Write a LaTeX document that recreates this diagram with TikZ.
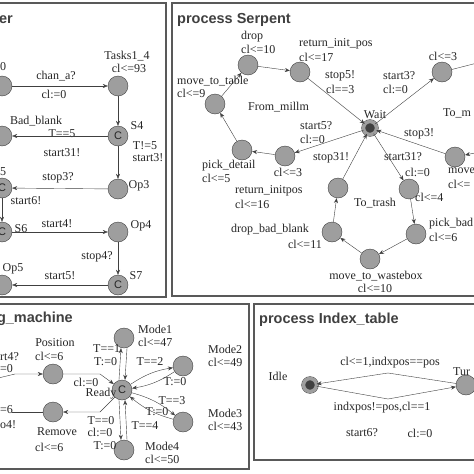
\documentclass[tikz,border=0pt]{standalone}
\usepackage{fontspec}
\setmainfont{Liberation Serif}
\setsansfont{Liberation Sans}
\usetikzlibrary{positioning,arrows.meta}

\begin{document}
\begin{tikzpicture}[
		x=1pt, y=-1pt,
		panel/.style  = { draw=black!65, line width=1.5pt, fill=white },
		title/.style  = { font=\sffamily\bfseries\fontsize{14.5}{16}\selectfont,
			text=black!75, anchor=base west, inner sep=0pt },
		loc/.style    = { circle, draw=black!75, fill=black!38, thin,
			minimum size=20pt, inner sep=0pt },
		comm/.style   = { loc, font=\sffamily\fontsize{11}{12}\selectfont, text=black!85 },
		init/.style   = { circle, draw=black!75, fill=black!75, thin,
			double=black!38, double distance=3.5pt, minimum size=13pt, inner sep=0pt },
		lbl/.style    = { font=\fontsize{12}{13}\selectfont, text=black!85, inner sep=0pt },
		line/.style   = { draw=black!75, thin, -{Stealth[length=5pt,width=4pt]} },
		]
		\clip (0,0) rectangle (474,474);
		\fill[white] (0,0) rectangle (474,474);
		% the four process panels
		\draw[panel] (-5,3) rectangle (166,297);
		\draw[panel] (172,3) rectangle (480,296);
		\draw[panel] (-5,304) rectangle (249,469);
		\draw[panel] (254,304) rectangle (480,460);
		\node[title, anchor=base east] (tA) at (13,23) {er};
		\node[title] (tB) at (177,23) {process Serpent};
		\node[title, anchor=base east] (tC) at (73,322) {g\_machine};
		\node[title] (tD) at (259,323) {process Index\_table};
		
		% left process
		\node [loc] (l0) at (2,86) {};
		\node [loc] (tasks) at (118,86) {};
		\node [comm] (s4) at (118,136) {C};
		\node [loc] (bad) at (2,136) {};
		\node [loc] (op3) at (118,189) {};
		\node [comm] (s5) at (2,188) {C};
		\node [comm] (s6) at (2,232) {C};
		\node [loc] (op4) at (118,232) {};
		\node [comm] (s7) at (118,285) {C};
		\node [loc] (op5) at (2,285) {};
		\begin{scope} [every node/.style=lbl]
		\node at (3,67) {0};
		\node at (56,76) {chan\_a?};
		\node at (54,94) {cl:=0};
		\node at (127,56) {Tasks1\_4};
		\node at (129,68) {cl<=93};
		\node at (137,126) {S4};
		\node at (36,121) {Bad\_blank};
		\node at (62,134) {T==5};
		\node at (145,146) {T!=5};
		\node at (62,153) {start31!};
		\node at (148,158) {start3!};
		\node at (3,172) {5};
		\node at (58,178) {stop3?};
		\node at (139,186) {Op3};
		\node at (26,201) {start6!};
		\node at (21,229) {S6};
		\node at (57,224) {start4!};
		\node at (141,226) {Op4};
		\node at (97,257) {stop4?};
		\node at (136,276) {S7};
		\node at (13,269) {Op5};
		\node at (60,276) {start5!};
		\end{scope}
		\begin{scope} [every path/.style=line]
		\path (l0) -- (tasks);
		\path (tasks) -- (s4);
		\path (s4) -- (bad);
		\path (s4) -- (op3);
		\path (op3) -- (s5);
		\path (s5) -- (s6);
		\path (s6) -- (op4);
		\path (op4) -- (s7);
		\path (s7) -- (op5);
		\end{scope}
		
		% process Serpent
		\node [loc] (drop) at (248,65) {};
		\node [loc] (retinit) at (300,72) {};
		\node [init] (wait) at (370,128) {};
		\node [loc] (toma) at (442,72) {};
		\node [loc] (move) at (455,157) {};
		\node [loc] (tra) at (409,189) {};
		\node [loc] (pickbad) at (416,234) {};
		\node [loc] (waste) at (370,259) {};
		\node [loc] (dropbad) at (332,232) {};
		\node [loc] (retpos) at (338,188) {};
		\node [loc] (frma) at (285,156) {};
		\node [loc] (pickdet) at (242,150) {};
		\node [loc] (movetab) at (215,104) {};
		\coordinate (toout) at (485,61);
		\coordinate (toin) at (490,150);
		\begin{scope} [every node/.style=lbl]
		\node [anchor=west] at (241,37) {drop};
		\node [anchor=west] at (241,49) {cl<=10};
		\node [anchor=west] at (299,44) {return\_init\_pos};
		\node [anchor=west] at (299,57) {cl<=17};
		\node [anchor=west] at (177,81) {move\_to\_table};
		\node [anchor=west] at (177,93) {cl<=9};
		\node [anchor=west] at (248,107) {From\_millm};
		\node [anchor=west] at (325,76) {stop5!};
		\node [anchor=west] at (326,89) {cl==3};
		\node [anchor=west] at (383,76) {start3?};
		\node [anchor=west] at (383,89) {cl:=0};
		\node at (443,56) {cl<=3};
		\node at (375,115) {Wait};
		\node [anchor=west] at (443,113) {To\_m};
		\node [anchor=west] at (300,126) {start5?};
		\node [anchor=west] at (300,139) {cl:=0};
		\node at (419,134) {stop3!};
		\node at (331,158) {stop31!};
		\node at (403,157) {start31?};
		\node [anchor=west] at (405,172) {cl:=0};
		\node [anchor=west] at (448,171) {move};
		\node [anchor=west] at (448,184) {cl<=};
		\node [anchor=west] at (202,166) {pick\_detail};
		\node [anchor=west] at (202,178) {cl<=5};
		\node at (288,172) {cl<=3};
		\node [anchor=west] at (235,191) {return\_initpos};
		\node [anchor=west] at (235,204) {cl<=16};
		\node [anchor=west] at (415,197) {cl<=4};
		\node at (375,203) {To\_trash};
		\node at (270,230) {drop\_bad\_blank};
		\node [anchor=east] at (322,244) {cl<=11};
		\node [anchor=west] at (429,224) {pick\_bad};
		\node [anchor=west] at (429,237) {cl<=6};
		\node at (376,276) {move\_to\_wastebox};
		\node at (375,288) {cl<=10};
		\end{scope}
		\begin{scope} [every path/.style=line]
		\path (movetab) -- (drop);
		\path (drop) -- (retinit);
		\path (retinit) -- (wait);
		\path (wait) -- (toma);
		\path (toma) -- (toout);
		\path (toin) -- (move);
		\path (move) -- (wait);
		\path (wait) -- (tra);
		\path (tra) -- (pickbad);
		\path (pickbad) -- (waste);
		\path (waste) -- (dropbad);
		\path (dropbad) -- (retpos);
		\path (retpos) -- (wait);
		\path (wait) -- (frma);
		\path (frma) -- (pickdet);
		\path (pickdet) -- (movetab);
		\end{scope}
		
		% machine process
		\node [loc] (position) at (53,374) {};
		\node [comm] (ready) at (122,390) {C};
		\node [loc] (remove) at (53,412) {};
		\node [loc] (mode1) at (124,338) {};
		\node [loc] (mode2) at (183,366) {};
		\node [loc] (mode3) at (183,422) {};
		\node [loc] (mode4) at (124,450) {};
		\coordinate (pin) at (-10,380);
		\coordinate (pbend) at (15,374);
		\coordinate (pready) at (100,374);
		\coordinate (rready) at (100,412);
		\coordinate (rout) at (12,412);
		\begin{scope} [every node/.style=lbl]
		\node [anchor=west] at (0,357) {rt4?};
		\node [anchor=west] at (0,369) {=0};
		\node at (55,343) {Position};
		\node [anchor=west] at (35,356) {cl<=6};
		\node at (86,382) {cl:=0};
		\node at (101,394) {Ready};
		\node [anchor=west] at (93,349) {T==1};
		\node [anchor=west] at (94,362) {T:=0};
		\node [anchor=west] at (0,410) {=6};
		\node [anchor=west] at (0,425) {o4!};
		\node at (101,421) {T==0};
		\node at (100,432) {cl:=0};
		\node at (105,446) {T:=0};
		\node at (57,432) {Remove};
		\node [anchor=west] at (35,447) {cl<=6};
		\node [anchor=west] at (138,329) {Mode1};
		\node [anchor=west] at (138,342) {cl<=47};
		\node [anchor=west] at (208,349) {Mode2};
		\node [anchor=west] at (208,362) {cl<=49};
		\node at (150,362) {T==2};
		\node at (175,382) {T:=0};
		\node at (172,401) {T==3};
		\node at (157,412) {T:=0};
		\node at (145,426) {T==4};
		\node [anchor=west] at (208,413) {Mode3};
		\node [anchor=west] at (208,426) {cl<=43};
		\node [anchor=west] at (145,446) {Mode4};
		\node [anchor=west] at (145,459) {cl<=50};
		\end{scope}
		\begin{scope} [every path/.style=line]
		\path (pin) -- (pbend) -- (position);
		\path (position) -- (pready) -- (ready);
		\path (ready) -- (rready) -- (remove);
		\path[-] (remove) -- (rout);
		\path ([xshift=-3pt] ready.north) -- ([xshift=-3pt] mode1.south);
		\path ([xshift=3pt] mode1.south) -- ([xshift=3pt] ready.north);
		\path (ready) to[bend left=12] (mode2);
		\path (mode2) to[bend left=12] (ready);
		\path (ready) to[bend left=12] (mode3);
		\path (mode3) to[bend left=12] (ready);
		\path ([xshift=-3pt] ready.south) -- ([xshift=-3pt] mode4.north);
		\path ([xshift=3pt] mode4.north) -- ([xshift=3pt] ready.south);
		\end{scope}
		
		% process Index_table
		\node [init] (idle) at (310,385) {};
		\node [loc] (turn) at (466,385) {};
		\coordinate (ttop) at (388,373);
		\coordinate (tbot) at (388,399);
		\begin{scope} [every node/.style=lbl]
		\node at (278,376) {Idle};
		\node [anchor=west] at (453,372) {Tur};
		\node at (390,363) {cl<=1,indxpos==pos};
		\node at (382,408) {indxpos!=pos,cl==1};
		\node at (362,433) {start6?};
		\node at (420,433) {cl:=0};
		\end{scope}
		\begin{scope} [every path/.style=line]
		\path (turn) -- (ttop) -- (idle);
		\path (idle) -- (tbot) -- (turn);
		\end{scope}
		\end{tikzpicture}
\end{document}
